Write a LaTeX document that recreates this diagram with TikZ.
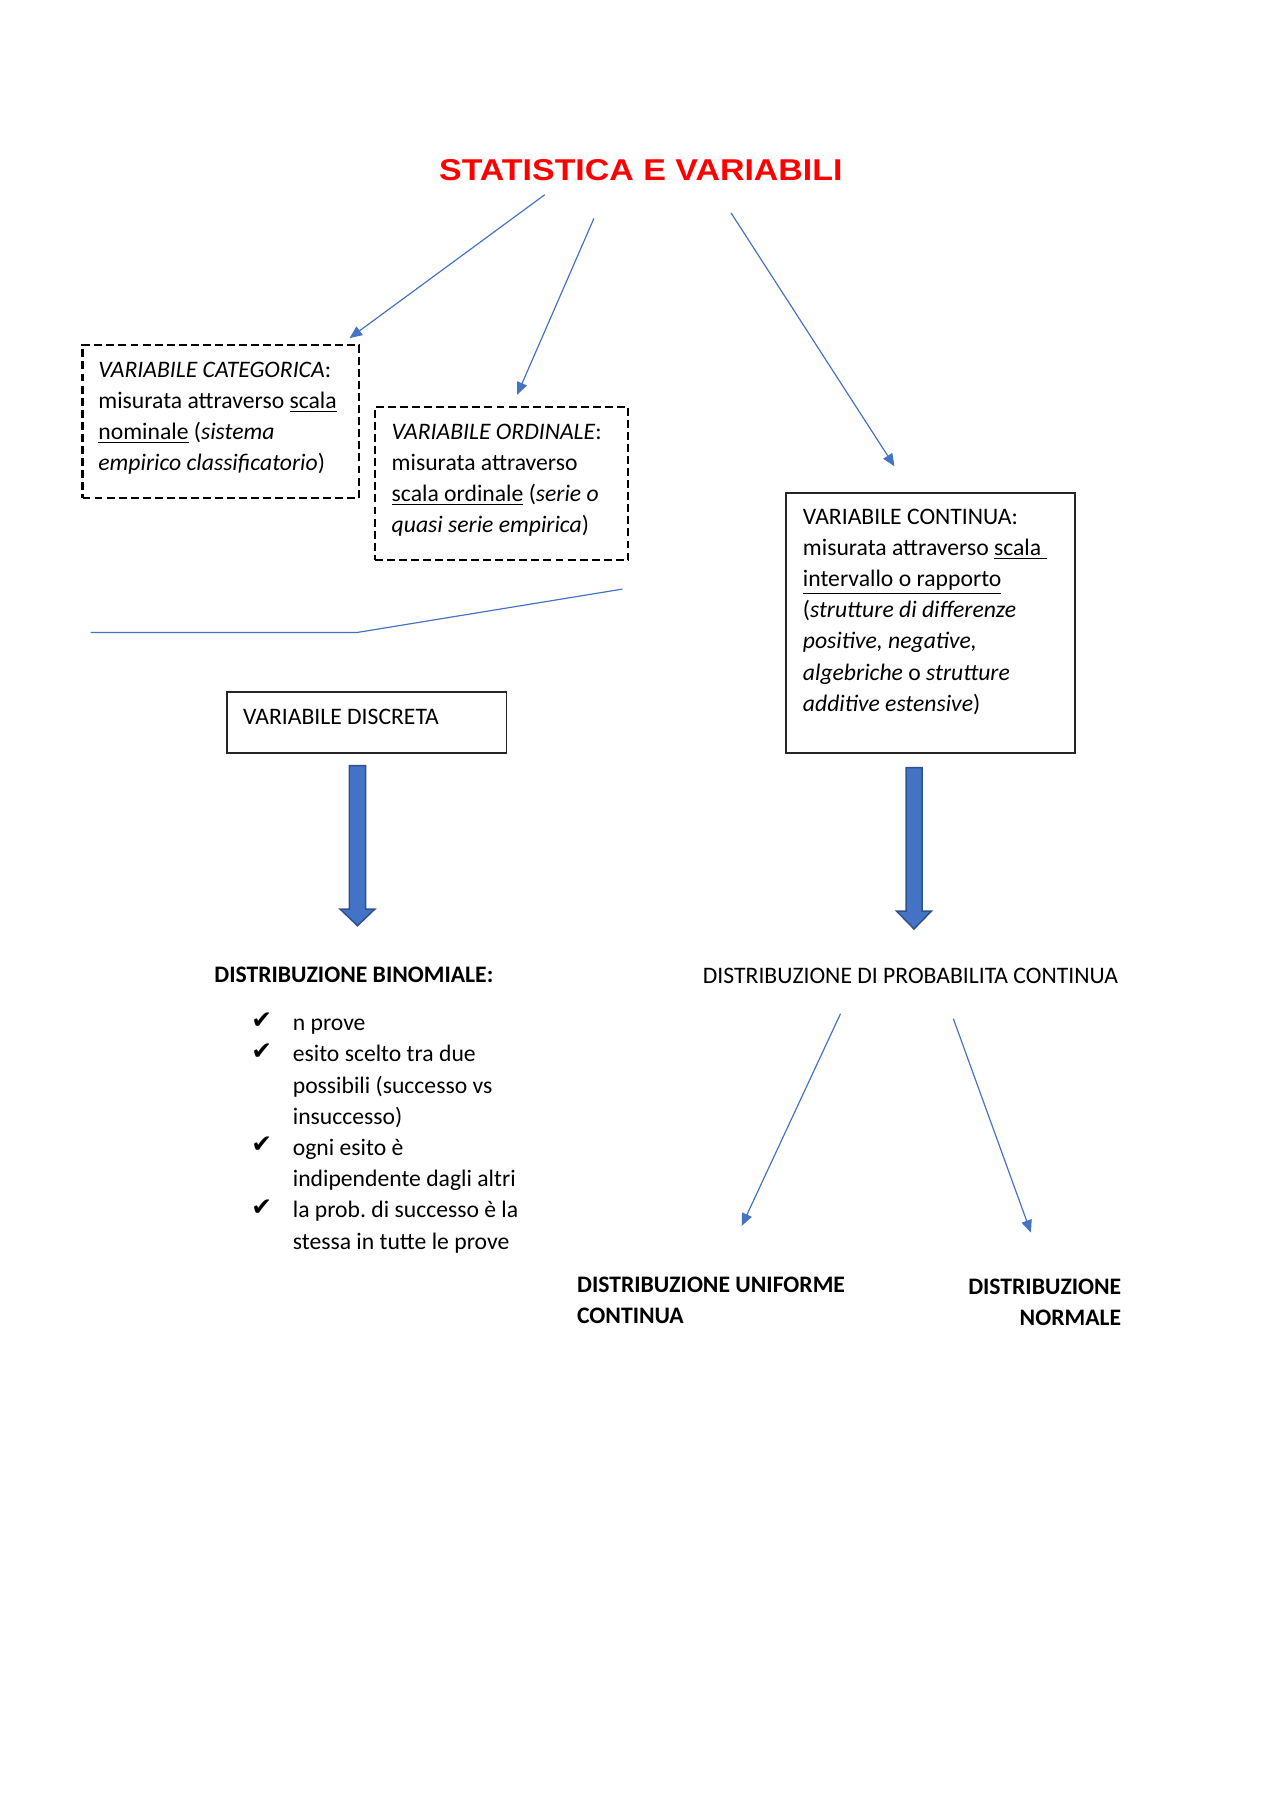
\documentclass[tikz,border=0pt]{standalone}
\usepackage{fontspec}
\setmainfont{Carlito}
\newfontfamily\titlefont{Liberation Sans}
\newfontfamily\symfont{DejaVu Sans}
\usetikzlibrary{arrows.meta,fit}
\definecolor{lblue}{HTML}{4472C4}
\definecolor{dblue}{HTML}{2F528F}
\definecolor{tred}{HTML}{FF0000}
\frenchspacing
\tikzset{
  body/.style={inner sep=0pt, anchor=north west, align=left, font=\fontsize{11pt}{14.5pt}\selectfont},
  dbox/.style={draw=black, line width=1pt, dash pattern=on 3.7pt off 1.9pt, inner sep=0pt},
  sbox/.style={draw=black!85, line width=0.9pt, inner sep=0pt},
  thin arrow/.style={draw=lblue, line width=0.55pt, -{Triangle[length=5.8pt,width=4.9pt]}},
  thin line/.style={draw=lblue, line width=0.55pt},
  block/.style={fill=lblue, draw=dblue, line width=0.7pt, line join=miter},
  chk/.style={inner sep=0pt, anchor=base west, font=\symfont\fontsize{11.5pt}{12pt}\selectfont},
}
\begin{document}
\begin{tikzpicture}[x=0.46506pt,y=-0.46506pt]
\useasboundingbox (0,0) rectangle (1280,1811);
% title
\node (title) [inner sep=0pt, anchor=base west, text=tred] at (438.7,180.5)
  {\scalebox{1.127}[1]{\titlefont\bfseries\fontsize{14pt}{16pt}\selectfont STATISTICA E VARIABILI}};
% boxes
\node (cat) [dbox, fit={(82.5,345.2) (359.4,497.6)}] {};
\node (ord) [dbox, fit={(374.9,407.3) (628.2,560.1)}] {};
\node (cont) [sbox, fit={(785.8,492.7) (1075,753.1)}] {};
\node (disc) [sbox, fit={(227.1,692.3) (506.5,753.1)}] {};
% box texts
\node (cattxt) [body] at (98,355) {\strut\textit{VARIABILE CATEGORICA}:\\
misurata attraverso \underline{scala}\\
\underline{nominale} (\textit{sistema}\\
\textit{empirico classificatorio})};
\node (ordtxt) [body] at (391.3,417) {\strut\textit{VARIABILE ORDINALE}:\\
misurata attraverso\\
\underline{scala ordinale} (\textit{serie o}\\
\textit{quasi serie empirica})};
\node (conttxt) [body] at (802.5,502) {\strut VARIABILE CONTINUA:\\
misurata attraverso \underline{scala\ }\\
\underline{intervallo o rapporto}\\
(\textit{strutture di differenze}\\
\textit{positive, negative,}\\
\textit{algebriche} o \textit{strutture}\\
\textit{additive estensive})};
\node (disctxt) [body] at (242.6,702) {\strut VARIABILE DISCRETA};
% arrows from title
\coordinate (a1s) at (544.8,194.7);  \coordinate (a1e) at (349.6,338.1);
\coordinate (a2s) at (593.9,218.4);  \coordinate (a2e) at (517.1,394.8);
\coordinate (a3s) at (731.1,213);    \coordinate (a3e) at (894.5,466.3);
\draw[thin arrow] (a1s) -- (a1e);
\draw[thin arrow] (a2s) -- (a2e);
\draw[thin arrow] (a3s) -- (a3e);
% polyline
\coordinate (p1) at (90.7,632.5); \coordinate (p2) at (357,632.5); \coordinate (p3) at (622.4,589.1);
\draw[thin line] (p1) -- (p2) -- (p3);
% block arrows
\draw[block] (349.3,765.7) -- (365.7,765.7) -- (365.7,909) -- (375,909) -- (357.5,925.7)
  -- (340,909) -- (349.3,909) -- cycle;
\draw[block] (906,767.5) -- (922,767.5) -- (922,911) -- (931.5,911) -- (914,929)
  -- (896.5,911) -- (906,911) -- cycle;
% distributions
\node (binom) [body] at (214,960) {\strut\textbf{DISTRIBUZIONE BINOMIALE:}};
\node (probc) [body] at (702.5,961) {\strut DISTRIBUZIONE DI PROBABILITA CONTINUA};
\node (list) [body] at (292.4,1008.5) {\strut n prove\\
esito scelto tra due\\
possibili (successo vs\\
insuccesso)\\
ogni esito è\\
indipendente dagli altri\\
la prob. di successo è la\\
stessa in tutte le prove};
\node (c1) [chk] at (251,1030.3) {\raisebox{1pt}{✔}};
\node (c2) [chk] at (251,1061.5) {\raisebox{1pt}{✔}};
\node (c3) [chk] at (251,1155.0) {\raisebox{1pt}{✔}};
\node (c4) [chk] at (251,1217.4) {\raisebox{1pt}{✔}};
% lower arrows
\coordinate (b1s) at (840.5,1013.7);  \coordinate (b1e) at (741.7,1225.9);
\coordinate (b2s) at (953.3,1018.6);  \coordinate (b2e) at (1030.9,1232.6);
\draw[thin arrow] (b1s) -- (b1e);
\draw[thin arrow] (b2s) -- (b2e);
\node (unif) [body] at (576.7,1270) {\strut\textbf{DISTRIBUZIONE UNIFORME}\\ \textbf{CONTINUA}};
\node (norm) [body, anchor=north east, align=right] at (1121.6,1272) {\strut\textbf{DISTRIBUZIONE}\\ \textbf{NORMALE}};
\end{tikzpicture}
\end{document}
